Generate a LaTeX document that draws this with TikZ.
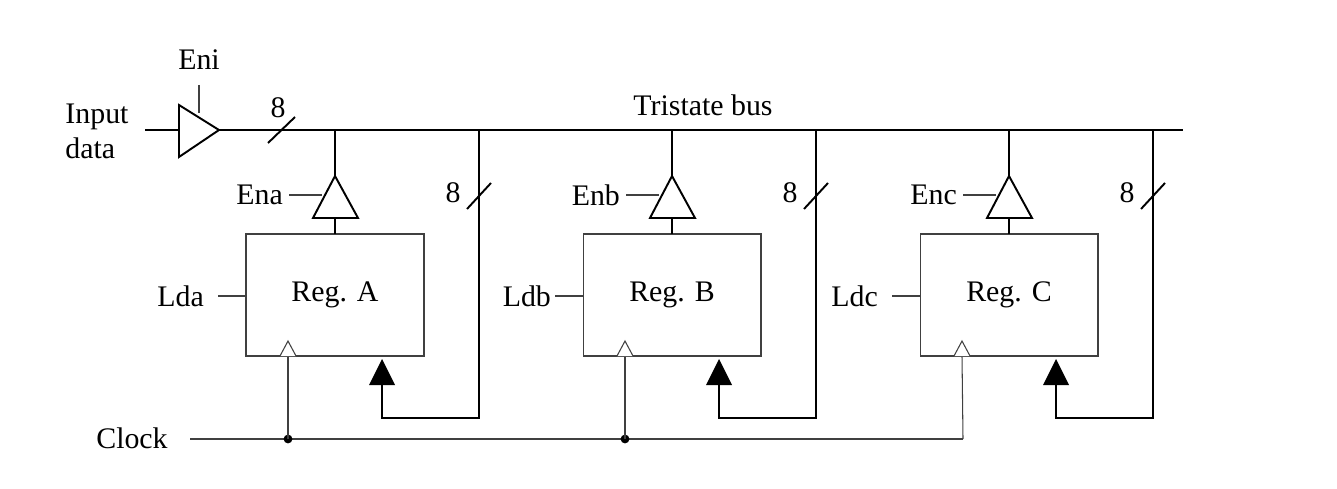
\documentclass[tikz,border=0pt]{standalone}
\usepackage{fontspec}
\setmainfont{Liberation Serif}
\usetikzlibrary{positioning}
\tikzset{
    bus/.style={line width=1.3pt},
    wire/.style={line width=0.6pt, black!75},
    slash/.style={line width=1.1pt},
    lbl/.style={font=\fontsize{17}{20}\selectfont, inner sep=1pt},
    reg/.style={draw=black!75, line width=0.6pt, minimum width=3.56cm, minimum height=2.44cm, font=\fontsize{17}{20}\selectfont},
    buf/.style={line width=1.1pt, fill=white},
    dot/.style={circle, fill, inner sep=0pt, minimum size=5pt}
}
\begin{document}
\begin{tikzpicture}[x=0.02cm, y=-0.02cm]
    \useasboundingbox (0,0) rectangle (1337,489);

    % input side
    \node[lbl, align=left] (in) at (97,131) {Input\\data};
    \node[lbl] (eni) at (199,60) {Eni};
    \node[lbl] (clk) at (132,438) {Clock};
    \node[lbl] (bus) at (703,105) {Tristate bus};
    \coordinate (bs) at (145,130);
    \coordinate (be) at (1183,130);
    \draw[bus] (bs) -- (be);
    \draw[buf] (179,105) -- (219,130) -- (179,157) -- cycle;
    \draw[wire] (199,85) -- (199,113);
    \draw[slash] (268,143) -- (295,117);
    \node[lbl] (w0) at (278,108) {8};

    % clock line
    \coordinate (cs) at (190,439);
    \coordinate (ce) at (963,439);
    \draw[wire] (cs) -- (ce);

    % registers
    \foreach \i/\n/\e/\l/\lx/\lg in {0/A/Ena/Lda/206/12, 1/B/Enb/Ldb/216/2, 2/C/Enc/Ldc/206/12} {
        \begin{scope}[xshift=\i*337*0.02cm]
            \node[reg] (r\n) at (335,295) {Reg. \n};
            \node[lbl, anchor=east] (e\n) at (285,195) {\e};
            \node[lbl, anchor=east] (l\n) at (\lx,296) {\l};
            \coordinate (t\n) at (335,130);
            \coordinate (f\n) at (479,130);
            \coordinate (k\n) at (288,439);
            % tristate buffer
            \draw[bus] (t\n) -- (335,176);
            \draw[bus] (335,218) -- (335,234);
            \draw[buf] (335,176) -- (358,218) -- (313,218) -- cycle;
            \draw[wire] (e\n.east) ++(4,0) -- (322,195);
            \draw[wire] (l\n.east) ++(\lg,0) -- (r\n.west |- l\n.east);
            % feedback
            \draw[bus] (f\n) -- (479,418) -- (382,418) -- (382,385);
            \fill (369,385) -- (382,359) -- (395,385) -- cycle;
            \draw[slash] (467,209) -- (491,183);
            \node[lbl] (w\n) at (453,193) {8};
            % clock input
            \draw[wire, fill=white] (280,356) -- (288,341) -- (296,356);
            \ifnum\i<2
                \node[dot] (d\n) at (k\n) {};
                \draw[wire] (k\n) -- (288,357);
            \else
                \draw[wire] (ce) -- (288,357);
            \fi
        \end{scope}
    }
\end{tikzpicture}
\end{document}
